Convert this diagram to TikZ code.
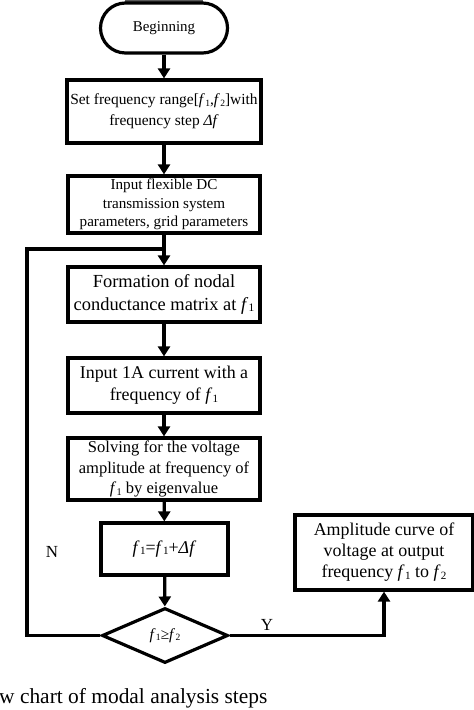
\documentclass[tikz,border=0pt]{standalone}
\usepackage{fontspec}
\usepackage{graphicx}
\setmainfont{Liberation Serif}
\usetikzlibrary{shapes.geometric,arrows.meta}
\newcommand{\fsub}[1]{\textit{f}\kern0.3pt\raisebox{-0.08em}{\scalebox{0.62}{#1}}}
\begin{document}
\begin{tikzpicture}[x=1bp,y=-1bp,
  box/.style={draw,line width=3.2pt,align=center,inner sep=0pt},
  flow/.style={line width=3.2pt,-{Triangle[length=10bp,width=12bp]}},
  line/.style={line width=3.2pt}]
\useasboundingbox (0,0) rectangle (474,710);
\fill[black!65] (125,0) rectangle (203,3);
\node[draw,line width=3.2pt,rounded corners=25bp,minimum width=127bp,minimum height=50bp,font=\fontsize{15}{17}\selectfont] (start) at (164,28) {Beginning};
\node[box,minimum width=194bp,minimum height=63bp,font=\fontsize{15.5}{21}\selectfont] (b1) at (164,111.5) {Set frequency range[\fsub{1},\fsub{2}]with\\frequency step \textit{Δf}};
\node[box,minimum width=192bp,minimum height=57bp,font=\fontsize{15.2}{18.5}\selectfont] (b2) at (164,204.5) {Input flexible DC\\transmission system\\parameters, grid parameters};
\node[box,minimum width=192bp,minimum height=55bp,font=\fontsize{18.5}{23}\selectfont] (b3) at (164,294.5) {Formation of nodal\\conductance matrix at \fsub{1}};
\node[box,minimum width=192bp,minimum height=55bp,font=\fontsize{18}{22}\selectfont] (b4) at (164,385.5) {Input 1A current with a\\frequency of \fsub{1}};
\node[box,minimum width=192bp,minimum height=62bp,font=\fontsize{16.6}{21}\selectfont] (b5) at (164,469) {Solving for the voltage\\amplitude at frequency of\\\fsub{1} by eigenvalue};
\node[box,minimum width=127bp,minimum height=52bp,font=\fontsize{18}{21}\selectfont] (b6) at (164.5,549) {\fsub{1}=\fsub{1}+\textit{Δf}};
\node[draw,line width=3.2pt,diamond,aspect=2.3,inner sep=0pt,minimum width=126bp,minimum height=55bp,font=\fontsize{15.5}{17}\selectfont] (dec) at (165,635.5) {\fsub{1}≥\fsub{2}};
\node[box,minimum width=178bp,minimum height=75bp,font=\fontsize{18}{21}\selectfont] (out) at (384,552.5) {Amplitude curve of\\voltage at output\\frequency \fsub{1} to \fsub{2}};
\coordinate (j) at (164,249);
\coordinate (cl) at (27,635.5);
\coordinate (ct) at (27,249);
\coordinate (cr) at (384,635.5);
\draw[flow] (start) -- (b1);
\draw[flow] (b1) -- (b2);
\draw[flow] (b2) -- (b3);
\draw[flow] (b3) -- (b4);
\draw[flow] (b4) -- (b5);
\draw[flow] (b5) -- (b6);
\draw[flow] (b6) -- (dec);
\draw[line] (dec.west) -- (cl) -- (ct) -- (j);
\draw[flow] (dec.east) -- (cr) -- (out.south);
\node[font=\fontsize{17}{19}\selectfont] (n) at (52,552) {N};
\node[font=\fontsize{17}{19}\selectfont] (y) at (267,625) {Y};
\node[anchor=base west,font=\fontsize{21.5}{24}\selectfont,inner sep=0pt] (cap) at (-1,703) {w chart of modal analysis steps};
\end{tikzpicture}
\end{document}
